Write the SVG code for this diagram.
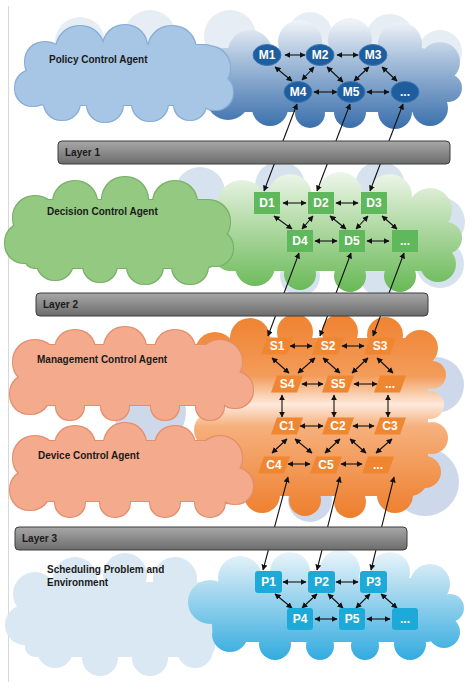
<svg xmlns="http://www.w3.org/2000/svg" xmlns:xlink="http://www.w3.org/1999/xlink" width="474" height="689" viewBox="0 0 474 689">
<style>
.lbl{font-family:"Liberation Sans",Arial,sans-serif;font-weight:bold;font-size:10px;fill:#1a1a1a}
.nt{font-family:"Liberation Sans",Arial,sans-serif;font-weight:bold;font-size:12px;fill:#ffffff;text-anchor:middle}
.ar{stroke:#111;stroke-width:1.1;fill:none;marker-start:url(#ah);marker-end:url(#ah)}
.bar{fill:url(#barg);stroke:#3c3c3c;stroke-width:1}
.m{fill:#1f5e9e;stroke:#3b78b5;stroke-width:1}
.d{fill:#5fb85c}
.o{fill:#ef8632}
.p{fill:#1eaad9}
</style>
<defs>
<marker id="ah" viewBox="0 0 10 10" refX="9" refY="5" markerWidth="6" markerHeight="6" markerUnits="userSpaceOnUse" orient="auto-start-reverse"><path d="M0,0 L10,5 L0,10 z" fill="#111"/></marker>
<linearGradient id="barg" x1="0" y1="0" x2="0" y2="1"><stop offset="0" stop-color="#a8a8a8"/><stop offset="1" stop-color="#6c6c6c"/></linearGradient>
<linearGradient id="g1" gradientUnits="userSpaceOnUse" x1="0" y1="22" x2="0" y2="128"><stop offset="0" stop-color="#eef2f7"/><stop offset="0.35" stop-color="#a8c0db"/><stop offset="1" stop-color="#3a6fac"/></linearGradient>
<linearGradient id="g2" gradientUnits="userSpaceOnUse" x1="0" y1="172" x2="0" y2="290"><stop offset="0" stop-color="#eef6ea"/><stop offset="0.35" stop-color="#bfe0b4"/><stop offset="1" stop-color="#6aba58"/></linearGradient>
<linearGradient id="g3" gradientUnits="userSpaceOnUse" x1="0" y1="315" x2="0" y2="518"><stop offset="0" stop-color="#ef8230"/><stop offset="0.3" stop-color="#f39c5a"/><stop offset="0.44" stop-color="#fde9dc"/><stop offset="0.55" stop-color="#f6b07c"/><stop offset="1" stop-color="#ee7e2c"/></linearGradient>
<linearGradient id="g4" gradientUnits="userSpaceOnUse" x1="0" y1="552" x2="0" y2="660"><stop offset="0" stop-color="#e8f4fa"/><stop offset="0.35" stop-color="#a9d9ef"/><stop offset="1" stop-color="#32abdf"/></linearGradient>
<filter id="olb" x="-5%" y="-5%" width="110%" height="110%"><feMorphology in="SourceAlpha" operator="dilate" radius="1.2" result="d"/><feFlood flood-color="#86acd6"/><feComposite in2="d" operator="in"/><feMerge><feMergeNode/><feMergeNode in="SourceGraphic"/></feMerge></filter>
<filter id="olg" x="-5%" y="-5%" width="110%" height="110%"><feMorphology in="SourceAlpha" operator="dilate" radius="1.2" result="d"/><feFlood flood-color="#77b065"/><feComposite in2="d" operator="in"/><feMerge><feMergeNode/><feMergeNode in="SourceGraphic"/></feMerge></filter>
<filter id="ols" x="-5%" y="-5%" width="110%" height="110%"><feMorphology in="SourceAlpha" operator="dilate" radius="1.2" result="d"/><feFlood flood-color="#e48d6a"/><feComposite in2="d" operator="in"/><feMerge><feMergeNode/><feMergeNode in="SourceGraphic"/></feMerge></filter>
<polygon id="para" points="-10,-8.5 16,-8.5 10,8.5 -16,8.5"/>
</defs>
<rect width="474" height="689" fill="#ffffff"/>
<line x1="8.5" y1="6" x2="8.5" y2="682" stroke="#d8d8d8" stroke-width="1"/>
<g id="clouds">
<g fill="#e7edf4"><circle cx="80" cy="42" r="25"/><circle cx="150" cy="36" r="26"/><circle cx="230" cy="36" r="26"/><circle cx="310" cy="34" r="22"/><circle cx="390" cy="38" r="24"/><circle cx="440" cy="52" r="22"/></g>
<g fill="url(#g1)"><rect x="208" y="48" width="228" height="64" rx="16"/><circle cx="215" cy="72" r="25"/><circle cx="250" cy="52" r="22"/><circle cx="300" cy="42" r="22"/><circle cx="350" cy="40" r="22"/><circle cx="400" cy="44" r="22"/><circle cx="440" cy="62" r="20"/><circle cx="448" cy="88" r="14"/><circle cx="430" cy="108" r="18"/><circle cx="395" cy="112" r="17"/><circle cx="350" cy="112" r="16"/><circle cx="310" cy="113" r="15"/><circle cx="270" cy="108" r="18"/><circle cx="228" cy="98" r="22"/></g>
<g fill="#a7c6e6" filter="url(#olb)"><rect x="35" y="45" width="180" height="60" rx="10"/><circle cx="45" cy="62" r="20"/><circle cx="80" cy="50" r="24"/><circle cx="125" cy="47" r="22"/><circle cx="172" cy="50" r="24"/><circle cx="208" cy="68" r="22"/><circle cx="215" cy="92" r="18"/><circle cx="190" cy="104" r="16"/><circle cx="150" cy="103" r="18"/><circle cx="105" cy="104" r="18"/><circle cx="62" cy="102" r="18"/><circle cx="33" cy="88" r="18"/></g>
<g fill="#d7e2ef"><circle cx="200" cy="192" r="25"/><circle cx="280" cy="186" r="25"/><circle cx="380" cy="186" r="25"/><circle cx="440" cy="222" r="25"/><circle cx="440" cy="264" r="24"/><circle cx="300" cy="276" r="20"/><circle cx="380" cy="276" r="20"/></g>
<g fill="url(#g2)"><rect x="214" y="203" width="226" height="68" rx="16"/><circle cx="215" cy="235" r="25"/><circle cx="242" cy="205" r="25"/><circle cx="290" cy="196" r="22"/><circle cx="340" cy="194" r="22"/><circle cx="390" cy="196" r="22"/><circle cx="430" cy="210" r="22"/><circle cx="446" cy="238" r="16"/><circle cx="438" cy="264" r="18"/><circle cx="400" cy="276" r="16"/><circle cx="350" cy="276" r="16"/><circle cx="300" cy="274" r="16"/><circle cx="255" cy="266" r="20"/></g>
<g fill="#93c981" filter="url(#olg)"><rect x="25" y="200" width="190" height="68" rx="10"/><circle cx="35" cy="218" r="22"/><circle cx="75" cy="203" r="22"/><circle cx="125" cy="200" r="23"/><circle cx="175" cy="203" r="22"/><circle cx="208" cy="222" r="22"/><circle cx="215" cy="248" r="18"/><circle cx="190" cy="266" r="18"/><circle cx="145" cy="266" r="18"/><circle cx="100" cy="265" r="17"/><circle cx="55" cy="262" r="18"/><circle cx="25" cy="243" r="20"/></g>
<g fill="#cdd9ea"><circle cx="150" cy="412" r="36"/><circle cx="250" cy="412" r="36"/><circle cx="436" cy="385" r="28"/><circle cx="425" cy="482" r="34"/><circle cx="310" cy="500" r="22"/></g>
<g fill="url(#g3)"><rect x="212" y="338" width="216" height="158" rx="18"/><circle cx="215" cy="352" r="20"/><circle cx="212" cy="390" r="18"/><circle cx="212" cy="430" r="18"/><circle cx="215" cy="470" r="20"/><circle cx="250" cy="338" r="20"/><circle cx="295" cy="332" r="18"/><circle cx="340" cy="332" r="18"/><circle cx="385" cy="335" r="18"/><circle cx="420" cy="348" r="18"/><circle cx="432" cy="375" r="14"/><circle cx="430" cy="405" r="14"/><circle cx="432" cy="438" r="16"/><circle cx="425" cy="472" r="16"/><circle cx="395" cy="495" r="18"/><circle cx="350" cy="502" r="16"/><circle cx="305" cy="500" r="16"/><circle cx="262" cy="495" r="18"/><circle cx="228" cy="488" r="16"/></g>
<g fill="#f4aa8d" filter="url(#ols)"><rect x="25" y="345" width="205" height="60" rx="10"/><circle cx="35" cy="362" r="22"/><circle cx="75" cy="350" r="20"/><circle cx="125" cy="348" r="21"/><circle cx="175" cy="350" r="20"/><circle cx="220" cy="362" r="22"/><circle cx="235" cy="390" r="18"/><circle cx="210" cy="406" r="14"/><circle cx="165" cy="406" r="14"/><circle cx="115" cy="406" r="14"/><circle cx="70" cy="406" r="14"/><circle cx="30" cy="394" r="20"/></g>
<g fill="#f4aa8d" filter="url(#ols)"><rect x="25" y="441" width="205" height="60" rx="10"/><circle cx="35" cy="458" r="22"/><circle cx="75" cy="446" r="20"/><circle cx="125" cy="444" r="21"/><circle cx="175" cy="446" r="20"/><circle cx="220" cy="458" r="22"/><circle cx="235" cy="486" r="18"/><circle cx="210" cy="502" r="15"/><circle cx="165" cy="502" r="15"/><circle cx="115" cy="502" r="15"/><circle cx="70" cy="502" r="15"/><circle cx="30" cy="490" r="20"/></g>
<g fill="#dae8f3"><rect x="25" y="582" width="190" height="75" rx="10"/><circle cx="35" cy="594" r="22"/><circle cx="75" cy="579" r="22"/><circle cx="125" cy="575" r="22"/><circle cx="175" cy="579" r="22"/><circle cx="210" cy="602" r="20"/><circle cx="218" cy="630" r="15"/><circle cx="195" cy="650" r="18"/><circle cx="150" cy="658" r="18"/><circle cx="100" cy="658" r="18"/><circle cx="55" cy="650" r="18"/><circle cx="25" cy="625" r="20"/></g>
<g fill="url(#g4)"><rect x="212" y="578" width="230" height="64" rx="16"/><circle cx="210" cy="602" r="22"/><circle cx="240" cy="578" r="22"/><circle cx="290" cy="572" r="20"/><circle cx="340" cy="570" r="20"/><circle cx="390" cy="572" r="20"/><circle cx="430" cy="584" r="20"/><circle cx="450" cy="608" r="14"/><circle cx="444" cy="632" r="16"/><circle cx="410" cy="644" r="16"/><circle cx="365" cy="646" r="14"/><circle cx="320" cy="646" r="14"/><circle cx="275" cy="644" r="16"/><circle cx="230" cy="634" r="18"/></g>
</g>
<g id="cloud-labels">
<text class="lbl" x="49" y="63">Policy Control Agent</text>
<text class="lbl" x="47" y="215">Decision Control Agent</text>
<text class="lbl" x="37" y="363">Management Control Agent</text>
<text class="lbl" x="38" y="459">Device Control Agent</text>
<text class="lbl" x="47" y="573">Scheduling Problem and</text>
<text class="lbl" x="47" y="586">Environment</text>
</g>
<g id="connectors">
<line class="ar" x1="285" y1="55" x2="305" y2="55"/>
<line class="ar" x1="337" y1="55" x2="358" y2="55"/>
<line class="ar" x1="314" y1="92" x2="337" y2="92"/>
<line class="ar" x1="367" y1="92" x2="389" y2="92"/>
<line class="ar" x1="275" y1="67" x2="292" y2="81"/>
<line class="ar" x1="314" y1="67" x2="302" y2="80"/>
<line class="ar" x1="327" y1="67" x2="343" y2="82"/>
<line class="ar" x1="369" y1="67" x2="354" y2="81"/>
<line class="ar" x1="382" y1="67" x2="397" y2="81"/>
<line class="ar" x1="297" y1="104" x2="264" y2="191"/>
<line class="ar" x1="350" y1="104" x2="317" y2="191"/>
<line class="ar" x1="403" y1="104" x2="370" y2="191"/>
<line class="ar" x1="283" y1="203" x2="306" y2="203"/>
<line class="ar" x1="336" y1="203" x2="358" y2="203"/>
<line class="ar" x1="315" y1="241" x2="337" y2="241"/>
<line class="ar" x1="367" y1="241" x2="389" y2="241"/>
<line class="ar" x1="274" y1="216" x2="292" y2="229"/>
<line class="ar" x1="313" y1="216" x2="302" y2="229"/>
<line class="ar" x1="330" y1="216" x2="346" y2="229"/>
<line class="ar" x1="368" y1="216" x2="356" y2="229"/>
<line class="ar" x1="382" y1="216" x2="397" y2="229"/>
<line class="ar" x1="299" y1="253" x2="268" y2="336"/>
<line class="ar" x1="351" y1="253" x2="320" y2="336"/>
<line class="ar" x1="404" y1="253" x2="373" y2="336"/>
<line class="ar" x1="290" y1="346" x2="312" y2="346"/>
<line class="ar" x1="342" y1="346" x2="364" y2="346"/>
<line class="ar" x1="302" y1="384" x2="323" y2="384"/>
<line class="ar" x1="354" y1="384" x2="377" y2="384"/>
<line class="ar" x1="272" y1="358" x2="289" y2="373"/>
<line class="ar" x1="315" y1="358" x2="298" y2="373"/>
<line class="ar" x1="323" y1="358" x2="340" y2="373"/>
<line class="ar" x1="368" y1="358" x2="352" y2="373"/>
<line class="ar" x1="377" y1="358" x2="393" y2="373"/>
<line class="ar" x1="282" y1="395" x2="282" y2="417"/>
<line class="ar" x1="334" y1="395" x2="334" y2="417"/>
<line class="ar" x1="388" y1="395" x2="388" y2="417"/>
<line class="ar" x1="300" y1="426" x2="323" y2="426"/>
<line class="ar" x1="353" y1="426" x2="374" y2="426"/>
<line class="ar" x1="288" y1="464" x2="310" y2="464"/>
<line class="ar" x1="341" y1="464" x2="362" y2="464"/>
<line class="ar" x1="287" y1="439" x2="272" y2="453"/>
<line class="ar" x1="295" y1="439" x2="312" y2="453"/>
<line class="ar" x1="340" y1="439" x2="325" y2="453"/>
<line class="ar" x1="350" y1="439" x2="366" y2="453"/>
<line class="ar" x1="392" y1="439" x2="376" y2="453"/>
<line class="ar" x1="288" y1="477" x2="263" y2="570"/>
<line class="ar" x1="340" y1="477" x2="317" y2="570"/>
<line class="ar" x1="394" y1="477" x2="371" y2="570"/>
<line class="ar" x1="283" y1="582" x2="306" y2="582"/>
<line class="ar" x1="336" y1="582" x2="358" y2="582"/>
<line class="ar" x1="315" y1="619" x2="337" y2="619"/>
<line class="ar" x1="367" y1="619" x2="390" y2="619"/>
<line class="ar" x1="275" y1="594" x2="292" y2="608"/>
<line class="ar" x1="317" y1="594" x2="302" y2="608"/>
<line class="ar" x1="328" y1="594" x2="343" y2="608"/>
<line class="ar" x1="370" y1="594" x2="356" y2="608"/>
<line class="ar" x1="381" y1="594" x2="397" y2="608"/>
</g>
<g id="layer1"><rect class="bar" x="58" y="141" width="392" height="23" rx="4"/><text class="lbl" x="65" y="156">Layer 1</text></g>
<g id="layer2"><rect class="bar" x="36" y="293" width="392" height="23" rx="4"/><text class="lbl" x="43" y="308">Layer 2</text></g>
<g id="layer3"><rect class="bar" x="15" y="527" width="392" height="23" rx="4"/><text class="lbl" x="22" y="542">Layer 3</text></g>
<g id="M1"><ellipse class="m" cx="267" cy="55" rx="14" ry="10.5"/><text class="nt" x="267" y="59.3">M1</text></g>
<g id="M2"><ellipse class="m" cx="320" cy="55" rx="14" ry="10.5"/><text class="nt" x="320" y="59.3">M2</text></g>
<g id="M3"><ellipse class="m" cx="373" cy="55" rx="14" ry="10.5"/><text class="nt" x="373" y="59.3">M3</text></g>
<g id="M4"><ellipse class="m" cx="298" cy="92" rx="14" ry="10.5"/><text class="nt" x="298" y="96.3">M4</text></g>
<g id="M5"><ellipse class="m" cx="351" cy="92" rx="14" ry="10.5"/><text class="nt" x="351" y="96.3">M5</text></g>
<g id="M6"><ellipse class="m" cx="405" cy="92" rx="14" ry="10.5"/><text class="nt" x="405" y="96.3">...</text></g>
<g id="D1"><rect class="d" x="254" y="192" width="26" height="22"/><text class="nt" x="267" y="207.3">D1</text></g>
<g id="D2"><rect class="d" x="308" y="192" width="26" height="22"/><text class="nt" x="321" y="207.3">D2</text></g>
<g id="D3"><rect class="d" x="361" y="192" width="26" height="22"/><text class="nt" x="374" y="207.3">D3</text></g>
<g id="D4"><rect class="d" x="287" y="230" width="26" height="22"/><text class="nt" x="300" y="245.3">D4</text></g>
<g id="D5"><rect class="d" x="339" y="230" width="26" height="22"/><text class="nt" x="352" y="245.3">D5</text></g>
<g id="D6"><rect class="d" x="392" y="230" width="26" height="22"/><text class="nt" x="405" y="245.3">...</text></g>
<g id="S1"><use xlink:href="#para" class="o" x="277" y="346"/><text class="nt" x="277" y="350.3">S1</text></g>
<g id="S2"><use xlink:href="#para" class="o" x="328" y="346"/><text class="nt" x="328" y="350.3">S2</text></g>
<g id="S3"><use xlink:href="#para" class="o" x="380" y="346"/><text class="nt" x="380" y="350.3">S3</text></g>
<g id="S4"><use xlink:href="#para" class="o" x="287" y="384"/><text class="nt" x="287" y="388.3">S4</text></g>
<g id="S5"><use xlink:href="#para" class="o" x="338" y="384"/><text class="nt" x="338" y="388.3">S5</text></g>
<g id="S6"><use xlink:href="#para" class="o" x="390" y="384"/><text class="nt" x="390" y="388.3">...</text></g>
<g id="C1"><use xlink:href="#para" class="o" x="287" y="426"/><text class="nt" x="287" y="430.3">C1</text></g>
<g id="C2"><use xlink:href="#para" class="o" x="338" y="426"/><text class="nt" x="338" y="430.3">C2</text></g>
<g id="C3"><use xlink:href="#para" class="o" x="390" y="426"/><text class="nt" x="390" y="430.3">C3</text></g>
<g id="C4"><use xlink:href="#para" class="o" x="274" y="465"/><text class="nt" x="274" y="469.3">C4</text></g>
<g id="C5"><use xlink:href="#para" class="o" x="326" y="465"/><text class="nt" x="326" y="469.3">C5</text></g>
<g id="C6"><use xlink:href="#para" class="o" x="378" y="465"/><text class="nt" x="378" y="469.3">...</text></g>
<g id="P1"><rect class="p" x="255" y="571" width="27" height="22" rx="3"/><text class="nt" x="268.5" y="586.3">P1</text></g>
<g id="P2"><rect class="p" x="308" y="571" width="27" height="22" rx="3"/><text class="nt" x="321.5" y="586.3">P2</text></g>
<g id="P3"><rect class="p" x="360" y="571" width="27" height="22" rx="3"/><text class="nt" x="373.5" y="586.3">P3</text></g>
<g id="P4"><rect class="p" x="287" y="608" width="26" height="22" rx="3"/><text class="nt" x="300" y="623.3">P4</text></g>
<g id="P5"><rect class="p" x="339" y="608" width="26" height="22" rx="3"/><text class="nt" x="352" y="623.3">P5</text></g>
<g id="P6"><rect class="p" x="392" y="608" width="26" height="22" rx="3"/><text class="nt" x="405" y="623.3">...</text></g>
</svg>
